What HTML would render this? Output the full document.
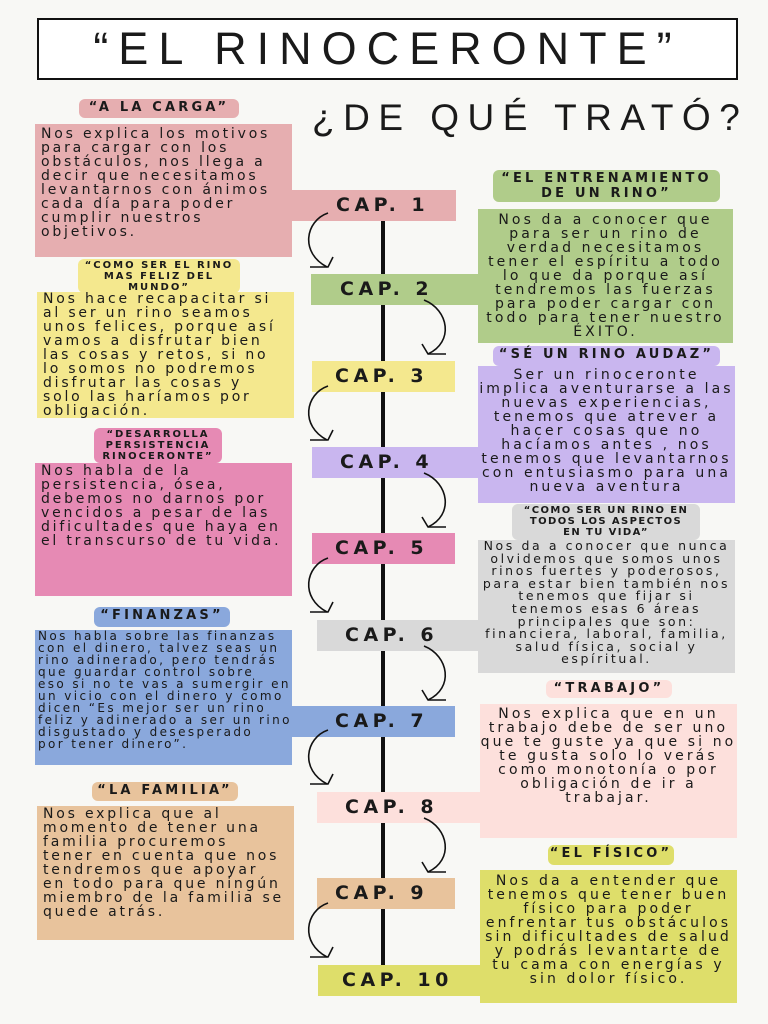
<!DOCTYPE html>
<html><head><meta charset="utf-8"><style>
*{margin:0;padding:0;box-sizing:border-box}
body{width:768px;height:1024px;background:#f8f8f5;position:relative;overflow:hidden;font-family:"DejaVu Sans","Liberation Sans",sans-serif;color:#1a1a1a}
.a{position:absolute}
.title{left:37px;top:18px;width:701px;height:62px;border:2px solid #111;background:#fff;text-align:center;font-family:"Liberation Sans",sans-serif;font-size:45px;line-height:58px;letter-spacing:10px;white-space:nowrap}
.q{left:312px;top:96px;font-family:"Liberation Sans",sans-serif;font-size:37px;letter-spacing:8.5px;line-height:44px;white-space:nowrap}
.line{left:381px;top:220px;width:4px;height:760px;background:#111}
.cap{font-weight:bold;font-size:19px;letter-spacing:4.5px;line-height:31px;height:31px;white-space:nowrap}
.cap span{position:absolute}
.box{font-size:14px;line-height:14px;letter-spacing:2.8px;padding:3px 6px;white-space:nowrap}
.c{text-align:center;letter-spacing:3.1px}
.lab{font-weight:bold;font-size:13px;letter-spacing:3.2px;text-align:center;border-radius:6px;line-height:18px;white-space:nowrap}
.lab.s{font-size:10px;line-height:11px;padding-top:1px;letter-spacing:2px}
</style></head><body>
<div class="a title">“EL RINOCERONTE”</div>
<div class="a q">¿DE QUÉ TRATÓ?</div>

<div class="a lab" style="left:79px;top:99px;width:160px;height:19px;background:#e6aeb0">“A LA CARGA”</div>
<div class="a box" style="left:35px;top:124px;width:257px;height:133px;background:#e6aeb0;padding-top:3px">Nos explica los motivos<br>para cargar con los<br>obstáculos, nos llega a<br>decir que necesitamos<br>levantarnos con ánimos<br>cada día para poder<br>cumplir nuestros<br>objetivos.</div>

<div class="a lab s" style="left:78px;top:259px;width:162px;height:34px;background:#f4e88e">“COMO SER EL RINO<br>MAS FELIZ DEL<br>MUNDO”</div>
<div class="a box" style="left:37px;top:292px;width:257px;height:126px;background:#f4e88e;padding-top:0">Nos hace recapacitar si<br>al ser un rino seamos<br>unos felices, porque así<br>vamos a disfrutar bien<br>las cosas y retos, si no<br>lo somos no podremos<br>disfrutar las cosas y<br>solo las haríamos por<br>obligación.</div>

<div class="a lab s" style="left:94px;top:428px;width:128px;height:35px;background:#e68ab4">“DESARROLLA<br>PERSISTENCIA<br>RINOCERONTE”</div>
<div class="a box" style="left:35px;top:463px;width:257px;height:133px;background:#e68ab4;padding-top:1px">Nos habla de la<br>persistencia, ósea,<br>debemos no darnos por<br>vencidos a pesar de las<br>dificultades que haya en<br>el transcurso de tu vida.</div>

<div class="a lab" style="left:94px;top:607px;width:136px;height:20px;background:#8aa8dc">“FINANZAS”</div>
<div class="a box" style="left:35px;top:630px;width:257px;height:135px;background:#8aa8dc;font-size:12px;line-height:12px;letter-spacing:2.4px;padding:0 3px">Nos habla sobre las finanzas<br>con el dinero, talvez seas un<br>rino adinerado, pero tendrás<br>que guardar control sobre<br>eso si no te vas a sumergir en<br>un vicio con el dinero y como<br>dicen “Es mejor ser un rino<br>feliz y adinerado a ser un rino<br>disgustado y desesperado<br>por tener dinero”.</div>

<div class="a lab" style="left:92px;top:782px;width:146px;height:19px;background:#e8c39c">“LA FAMILIA”</div>
<div class="a box" style="left:37px;top:806px;width:257px;height:134px;background:#e8c39c;padding-top:1px">Nos explica que al<br>momento de tener una<br>familia procuremos<br>tener en cuenta que nos<br>tendremos que apoyar<br>en todo para que ningún<br>miembro de la familia se<br>quede atrás.</div>

<div class="a lab" style="left:493px;top:170px;width:227px;height:32px;line-height:15px;padding-top:1px;background:#b0cc8a">“EL ENTRENAMIENTO<br>DE UN RINO”</div>
<div class="a box c" style="left:478px;top:209px;width:255px;height:134px;background:#b0cc8a;padding:4px 0 0">Nos da a  conocer que<br>para ser un rino de<br>verdad necesitamos<br>tener el espíritu a todo<br>lo que da porque así<br>tendremos las fuerzas<br>para poder cargar con<br>todo para tener nuestro<br>ÉXITO.</div>

<div class="a lab" style="left:493px;top:346px;width:227px;height:20px;background:#c9b6ef">“SÉ UN RINO AUDAZ”</div>
<div class="a box c" style="left:478px;top:366px;width:257px;height:137px;background:#c9b6ef;padding:2px 0 0">Ser un rinoceronte<br>implica aventurarse a las<br>nuevas experiencias,<br>tenemos que atrever a<br>hacer cosas que no<br>hacíamos antes , nos<br>tenemos que levantarnos<br>con entusiasmo para una<br>nueva aventura</div>

<div class="a lab s" style="left:512px;top:504px;width:188px;height:36px;background:#d9d9d9;letter-spacing:1.4px">“COMO SER UN RINO EN<br>TODOS LOS ASPECTOS<br>EN TU VIDA”</div>
<div class="a box c" style="left:478px;top:540px;width:257px;height:133px;background:#d9d9d9;font-size:12.5px;line-height:12.6px;letter-spacing:2.6px;padding:0">Nos da a conocer que nunca<br>olvidemos que somos unos<br>rinos fuertes y poderosos,<br>para estar bien también nos<br>tenemos que fijar si<br>tenemos esas 6 áreas<br>principales que son:<br>financiera, laboral, familia,<br>salud física, social y<br>espíritual.</div>

<div class="a lab" style="left:546px;top:680px;width:126px;height:18px;background:#fde0dc">“TRABAJO”</div>
<div class="a box c" style="left:480px;top:704px;width:257px;height:134px;background:#fde0dc;padding:3px 0 0">Nos explica que en un<br>trabajo debe de ser uno<br>que te guste ya que si no<br>te gusta solo lo verás<br>como monotonía o por<br>obligación de ir a<br>trabajar.</div>

<div class="a lab" style="left:548px;top:845px;width:126px;height:20px;background:#dede6a">“EL FÍSICO”</div>
<div class="a box c" style="left:480px;top:870px;width:257px;height:133px;background:#dede6a;padding:4px 0 0">Nos da a entender que<br>tenemos que tener buen<br>físico para poder<br>enfrentar tus obstáculos<br>sin dificultades de salud<br>y podrás levantarte de<br>tu cama con energías y<br>sin dolor físico.</div>

<div class="a line"></div>

<div class="a cap" style="left:292px;top:190px;width:164px;background:#e6aeb0"><span style="left:44px">CAP. 1</span></div>
<div class="a cap" style="left:311px;top:274px;width:169px;background:#b0cc8a"><span style="left:29px">CAP. 2</span></div>
<div class="a cap" style="left:312px;top:361px;width:143px;background:#f4e88e"><span style="left:23px">CAP. 3</span></div>
<div class="a cap" style="left:312px;top:447px;width:166px;background:#c9b6ef"><span style="left:28px">CAP. 4</span></div>
<div class="a cap" style="left:312px;top:533px;width:143px;background:#e68ab4"><span style="left:23px">CAP. 5</span></div>
<div class="a cap" style="left:317px;top:620px;width:161px;background:#d9d9d9"><span style="left:28px">CAP. 6</span></div>
<div class="a cap" style="left:292px;top:706px;width:163px;background:#8aa8dc"><span style="left:43px">CAP. 7</span></div>
<div class="a cap" style="left:317px;top:792px;width:163px;background:#fde0dc"><span style="left:28px">CAP. 8</span></div>
<div class="a cap" style="left:317px;top:878px;width:138px;background:#e8c39c"><span style="left:18px">CAP. 9</span></div>
<div class="a cap" style="left:318px;top:965px;width:162px;background:#dede6a"><span style="left:24px">CAP. 10</span></div>

<svg class="a" style="left:0;top:0" width="768" height="1024" fill="none" stroke="#111" stroke-width="1.6">
<defs>
<g id="L"><path d="M28 0 C5 8 0 40 27 54"/><path d="M33 44 L28 54 L10 54"/></g>
<g id="R"><path d="M0 0 C25 10 30 42 4 54"/><path d="M-2 44 L4 54 L22 54"/></g>
</defs>
<use href="#L" x="300" y="213"/>
<use href="#R" x="424" y="300"/>
<use href="#L" x="300" y="386"/>
<use href="#R" x="424" y="473"/>
<use href="#L" x="300" y="558"/>
<use href="#R" x="424" y="646"/>
<use href="#L" x="300" y="730"/>
<use href="#R" x="424" y="818"/>
<use href="#L" x="300" y="903"/>
</svg>
</body></html>
